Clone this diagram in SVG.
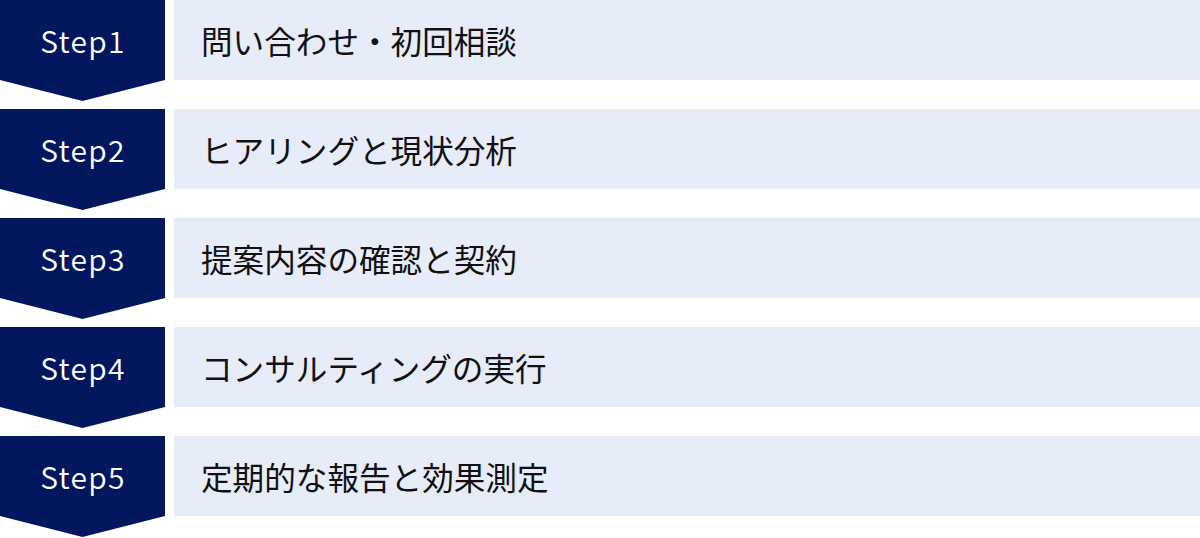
<svg xmlns="http://www.w3.org/2000/svg" width="1200" height="538" viewBox="0 0 1200 538">
<style>
.chev{fill:#03175f}
.box{fill:#e6ecf8}
.st{font-family:"Noto Sans CJK JP","Noto Sans",sans-serif;font-size:30px;font-weight:350;fill:#ffffff;text-anchor:middle;letter-spacing:1.3px}
.lb{font-family:"Noto Sans CJK JP","Noto Sans",sans-serif;font-size:31.6px;font-weight:400;fill:#111111}
</style>
<rect width="1200" height="538" fill="#ffffff"/>
<g id="connectors"></g>
<g id="step1">
<polygon class="chev" points="0,0 165,0 165,80 82.5,101 0,80"/>
<rect class="box" x="174" y="0" width="1026" height="80"/>
<text class="st" x="83" y="52.5">Step1</text>
<text class="lb" x="201" y="54">問い合わせ・初回相談</text>
</g>
<g id="step2">
<polygon class="chev" points="0,109 165,109 165,189 82.5,210 0,189"/>
<rect class="box" x="174" y="109" width="1026" height="80"/>
<text class="st" x="83" y="161.5">Step2</text>
<text class="lb" x="201" y="163">ヒアリングと現状分析</text>
</g>
<g id="step3">
<polygon class="chev" points="0,218 165,218 165,298 82.5,319 0,298"/>
<rect class="box" x="174" y="218" width="1026" height="80"/>
<text class="st" x="83" y="270.5">Step3</text>
<text class="lb" x="201" y="272">提案内容の確認と契約</text>
</g>
<g id="step4">
<polygon class="chev" points="0,327 165,327 165,407 82.5,428 0,407"/>
<rect class="box" x="174" y="327" width="1026" height="80"/>
<text class="st" x="83" y="379.5">Step4</text>
<text class="lb" x="201" y="381">コンサルティングの実行</text>
</g>
<g id="step5">
<polygon class="chev" points="0,436 165,436 165,516 82.5,537 0,516"/>
<rect class="box" x="174" y="436" width="1026" height="80"/>
<text class="st" x="83" y="488.5">Step5</text>
<text class="lb" x="201" y="490">定期的な報告と効果測定</text>
</g>
</svg>
